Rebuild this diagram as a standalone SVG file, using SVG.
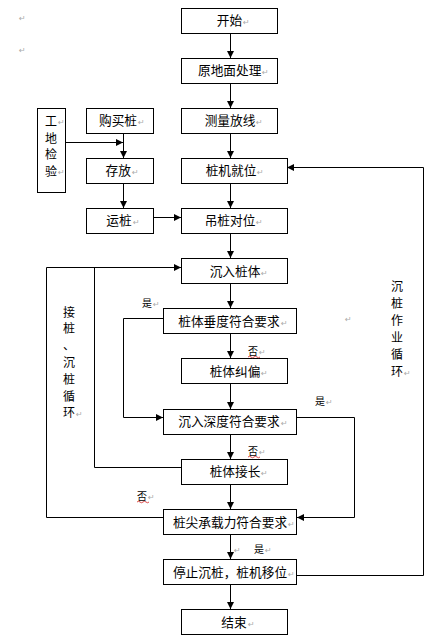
<svg xmlns="http://www.w3.org/2000/svg" width="444" height="640" viewBox="0 0 444 640">
<defs>
<marker id="arr" markerUnits="userSpaceOnUse" markerWidth="8" markerHeight="8" refX="7" refY="3.5" orient="auto">
<path d="M0,0 L7,3.5 L0,7 z" fill="#000"/>
</marker>
<style>
.box{fill:#fff;stroke:#000;stroke-width:1}
.t{font-family:"Noto Sans CJK SC","Noto Sans CJK JP",sans-serif;font-size:12.7px;fill:#000;text-anchor:middle}
.v{font-family:"Noto Sans CJK SC","Noto Sans CJK JP",sans-serif;font-size:12px;fill:#000;text-anchor:middle}
.s{font-family:"Noto Sans CJK SC","Noto Sans CJK JP",sans-serif;font-size:10px;fill:#000;text-anchor:middle}
.pm{font-family:"DejaVu Sans",sans-serif;font-size:8px;fill:#aaa}
.ln{fill:none;stroke:#000;stroke-width:1}
.wv{fill:none;stroke:#d02020;stroke-width:0.8}
</style>
</defs>
<rect width="444" height="640" fill="#fff"/>

<g id="connectors">
<path class="ln" d="M230.5,33 V58" marker-end="url(#arr)"/>
<path class="ln" d="M230.5,83 V108" marker-end="url(#arr)"/>
<path class="ln" d="M230.5,133 V158" marker-end="url(#arr)"/>
<path class="ln" d="M230.5,183 V208" marker-end="url(#arr)"/>
<path class="ln" d="M230.5,233 V258" marker-end="url(#arr)"/>
<path class="ln" d="M230.5,283 V308" marker-end="url(#arr)"/>
<path class="ln" d="M230.5,333 V358" marker-end="url(#arr)"/>
<path class="ln" d="M230.5,383 V409" marker-end="url(#arr)"/>
<path class="ln" d="M230.5,434 V459" marker-end="url(#arr)"/>
<path class="ln" d="M230.5,484 V509" marker-end="url(#arr)"/>
<path class="ln" d="M230.5,534 V559" marker-end="url(#arr)"/>
<path class="ln" d="M230.5,584 V609" marker-end="url(#arr)"/>
<path class="ln" d="M66,142.5 H123" marker-end="url(#arr)"/>
<path class="ln" d="M123.5,133 V158" marker-end="url(#arr)"/>
<path class="ln" d="M123.5,183 V208" marker-end="url(#arr)"/>
<path class="ln" d="M153,217.5 H181" marker-end="url(#arr)"/>
<path class="ln" d="M297,575.5 H423.5 V167.5 H287" marker-end="url(#arr)"/>
<path class="ln" d="M163,318.5 H123.5 V417.5 H163" marker-end="url(#arr)"/>
<path class="ln" d="M297,417.5 H354.5 V517.5 H297" marker-end="url(#arr)"/>
<path class="ln" d="M163,517.5 H46.5 V267.5 H181" marker-end="url(#arr)"/>
<path class="ln" d="M181,467.5 H94.5 V267.5"/>
</g>

<g id="n-start"><rect class="box" x="181.5" y="8.5" width="96" height="25"/><text class="t" x="229.5" y="25">开始</text><text class="pm" x="243" y="25">↵</text></g>
<g id="n-ground"><rect class="box" x="181.5" y="58.5" width="96" height="25"/><text class="t" x="229.7" y="75">原地面处理</text><text class="pm" x="262" y="75">↵</text></g>
<g id="n-survey"><rect class="box" x="181.5" y="108.5" width="96" height="25"/><text class="t" x="230" y="125">测量放线</text><text class="pm" x="256" y="125">↵</text></g>
<g id="n-inspect"><rect class="box" x="37.5" y="108.5" width="28" height="84"/>
<text class="v" x="51" y="126">工</text><text class="v" x="51" y="142.5">地</text><text class="v" x="51" y="159">检</text><text class="v" x="51" y="175.5">验</text>
<text class="pm" x="58" y="125">↵</text><text class="pm" x="58" y="174.5">↵</text></g>
<g id="n-buy"><rect class="box" x="86.5" y="108.5" width="67" height="25"/><text class="t" x="118" y="125">购买桩</text><text class="pm" x="138" y="125">↵</text></g>
<g id="n-store"><rect class="box" x="86.5" y="158.5" width="67" height="25"/><text class="t" x="118.3" y="175">存放</text><text class="pm" x="132" y="175">↵</text></g>
<g id="n-transport"><rect class="box" x="86.5" y="208.5" width="67" height="25"/><text class="t" x="119" y="225">运桩</text><text class="pm" x="133" y="225">↵</text></g>
<g id="n-position"><rect class="box" x="181.5" y="158.5" width="106" height="25"/><text class="t" x="231" y="175">桩机就位</text><text class="pm" x="257" y="175">↵</text></g>
<g id="n-hoist"><rect class="box" x="181.5" y="208.5" width="106" height="25"/><text class="t" x="230" y="225">吊桩对位</text><text class="pm" x="256" y="225">↵</text></g>
<g id="n-sink"><rect class="box" x="181.5" y="258.5" width="106" height="25"/><text class="t" x="235" y="276">沉入桩体</text><text class="pm" x="261" y="276">↵</text></g>
<g id="n-vert"><rect class="box" x="163.5" y="308.5" width="133" height="25"/><text class="t" x="229" y="325.5">桩体垂度符合要求</text><text class="pm" x="281" y="325.5">↵</text></g>
<g id="n-correct"><rect class="box" x="181.5" y="358.5" width="106" height="25"/><text class="t" x="235" y="375.5">桩体纠偏</text><text class="pm" x="261" y="375.5">↵</text></g>
<g id="n-depth"><rect class="box" x="163.5" y="409.5" width="133" height="25"/><text class="t" x="229" y="426">沉入深度符合要求</text><text class="pm" x="281" y="426">↵</text></g>
<g id="n-extend"><rect class="box" x="181.5" y="459.5" width="106" height="25"/><text class="t" x="235" y="476">桩体接长</text><text class="pm" x="261" y="476">↵</text></g>
<g id="n-bearing"><rect class="box" x="163.5" y="509.5" width="133" height="25"/><text class="t" x="230" y="526.5">桩尖承载力符合要求</text><text class="pm" x="288" y="526.5">↵</text></g>
<g id="n-stop"><rect class="box" x="163.5" y="559.5" width="133" height="25"/><text class="t" x="230" y="576.5">停止沉桩，桩机移位</text><text class="pm" x="288" y="576.5">↵</text></g>
<g id="n-end"><rect class="box" x="181.5" y="609.5" width="106" height="25"/><text class="t" x="234" y="626.5">结束</text><text class="pm" x="248" y="626.5">↵</text></g>

<g id="labels">
<text class="v" x="69" y="316.6">接</text><text class="v" x="69" y="333.4">桩</text><text class="v" x="69" y="350.2">、</text><text class="v" x="69" y="367">沉</text><text class="v" x="69" y="383.8">桩</text><text class="v" x="69" y="400.6">循</text><text class="v" x="69" y="417.4">环</text><text class="pm" x="76" y="416.5">↵</text>
<text class="v" x="397" y="291.3">沉</text><text class="v" x="397" y="308.3">桩</text><text class="v" x="397" y="325.3">作</text><text class="v" x="397" y="342.3">业</text><text class="v" x="397" y="359.3">循</text><text class="v" x="397" y="376.3">环</text><text class="pm" x="404" y="375.5">↵</text>
<text class="s" x="147" y="307">是</text><text class="pm" x="153" y="307">↵</text>
<text class="s" x="253" y="355">否</text><text class="pm" x="259" y="355">↵</text><path class="wv" d="M248,357 q1.5,-1.5 3,0 t3,0 t3,0 t3,0"/>
<text class="s" x="320" y="405">是</text><text class="pm" x="326" y="405">↵</text>
<text class="s" x="253" y="455">否</text><text class="pm" x="259" y="455">↵</text><path class="wv" d="M248,457 q1.5,-1.5 3,0 t3,0 t3,0 t3,0"/>
<text class="s" x="142" y="500">否</text><text class="pm" x="148" y="500">↵</text><path class="wv" d="M137,502 q1.5,-1.5 3,0 t3,0 t3,0 t3,0"/>
<text class="s" x="259" y="553">是</text><text class="pm" x="265" y="553">↵</text>
<text class="pm" x="19" y="21">↵</text>
<text class="pm" x="19" y="53">↵</text>
<text class="pm" x="345" y="322">↵</text>
<text class="pm" x="234" y="553">↵</text>
</g>
</svg>
